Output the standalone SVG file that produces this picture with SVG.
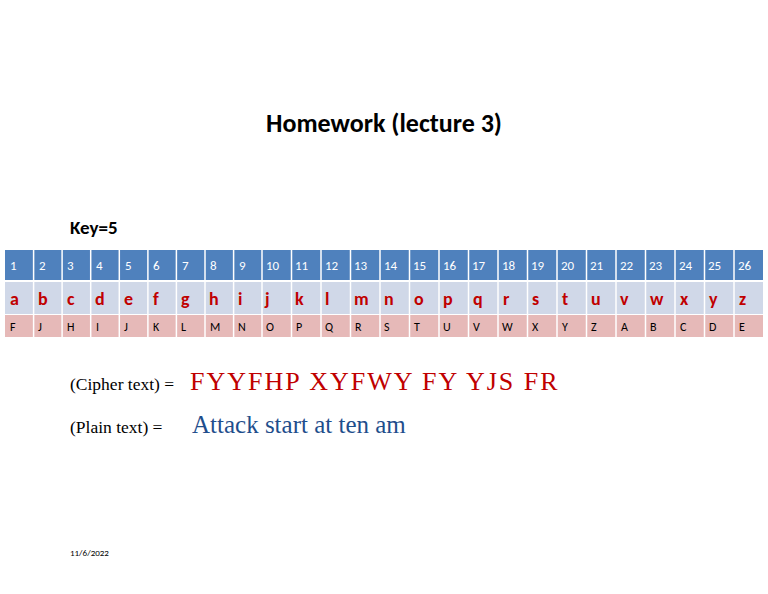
<svg xmlns="http://www.w3.org/2000/svg" width="768" height="594" viewBox="0 0 768 594">
<style>
.c{font-family:Calibri,Carlito,"Liberation Sans",sans-serif}
.n{fill:#fff;font-size:13px}
.a{fill:#C00000;font-size:18px;font-weight:bold}
.u{fill:#000;font-size:12px}
.s{font-family:"Liberation Serif",serif}
</style>
<rect width="768" height="594" fill="#fff"/>
<text x="384" y="132" text-anchor="middle" class="c" font-size="26" font-weight="bold">Homework (lecture 3)</text>
<text x="70" y="234" class="c" font-size="19" font-weight="bold">Key=5</text>
<g id="table">
<rect x="5" y="250" width="758" height="30" fill="#4F81BD"/>
<rect x="5" y="282" width="758" height="32" fill="#D0D8E8"/>
<rect x="5" y="315" width="758" height="22" fill="#E6B9B8"/>
<g stroke="#fff" stroke-width="1.5">
<line x1="33.6" y1="250" x2="33.6" y2="337"/><line x1="62.1" y1="250" x2="62.1" y2="337"/><line x1="90.7" y1="250" x2="90.7" y2="337"/><line x1="119.3" y1="250" x2="119.3" y2="337"/><line x1="147.9" y1="250" x2="147.9" y2="337"/><line x1="176.4" y1="250" x2="176.4" y2="337"/><line x1="205" y1="250" x2="205" y2="337"/><line x1="233.6" y1="250" x2="233.6" y2="337"/><line x1="262" y1="250" x2="262" y2="337"/><line x1="291.5" y1="250" x2="291.5" y2="337"/><line x1="321" y1="250" x2="321" y2="337"/><line x1="350.5" y1="250" x2="350.5" y2="337"/><line x1="380" y1="250" x2="380" y2="337"/><line x1="409.5" y1="250" x2="409.5" y2="337"/><line x1="439" y1="250" x2="439" y2="337"/><line x1="468.5" y1="250" x2="468.5" y2="337"/><line x1="498" y1="250" x2="498" y2="337"/><line x1="527.5" y1="250" x2="527.5" y2="337"/><line x1="557" y1="250" x2="557" y2="337"/><line x1="586.5" y1="250" x2="586.5" y2="337"/><line x1="616" y1="250" x2="616" y2="337"/><line x1="645.5" y1="250" x2="645.5" y2="337"/><line x1="675" y1="250" x2="675" y2="337"/><line x1="704.5" y1="250" x2="704.5" y2="337"/><line x1="734" y1="250" x2="734" y2="337"/>
</g>
<g class="c n">
<text x="10" y="270">1</text><text x="39" y="270">2</text><text x="67" y="270">3</text><text x="96" y="270">4</text><text x="125" y="270">5</text><text x="153" y="270">6</text><text x="182" y="270">7</text><text x="210" y="270">8</text><text x="239" y="270">9</text><text x="266" y="270">10</text><text x="295" y="270">11</text><text x="325" y="270">12</text><text x="354" y="270">13</text><text x="384" y="270">14</text><text x="413" y="270">15</text><text x="443" y="270">16</text><text x="472" y="270">17</text><text x="502" y="270">18</text><text x="531" y="270">19</text><text x="561" y="270">20</text><text x="590" y="270">21</text><text x="620" y="270">22</text><text x="649" y="270">23</text><text x="679" y="270">24</text><text x="708" y="270">25</text><text x="738" y="270">26</text>
</g>
<g class="c a">
<text x="10" y="305">a</text><text x="38" y="305">b</text><text x="67" y="305">c</text><text x="95" y="305">d</text><text x="124" y="305">e</text><text x="153" y="305">f</text><text x="181" y="305">g</text><text x="209" y="305">h</text><text x="238" y="305">i</text><text x="265" y="305">j</text><text x="295" y="305">k</text><text x="325" y="305">l</text><text x="354" y="305">m</text><text x="384" y="305">n</text><text x="414" y="305">o</text><text x="443" y="305">p</text><text x="473" y="305">q</text><text x="503" y="305">r</text><text x="532" y="305">s</text><text x="562" y="305">t</text><text x="591" y="305">u</text><text x="620" y="305">v</text><text x="650" y="305">w</text><text x="680" y="305">x</text><text x="709" y="305">y</text><text x="739" y="305">z</text>
</g>
<g class="c u">
<text x="10" y="331">F</text><text x="38" y="331">J</text><text x="67" y="331">H</text><text x="96" y="331">I</text><text x="124" y="331">J</text><text x="153" y="331">K</text><text x="181" y="331">L</text><text x="210" y="331">M</text><text x="238" y="331">N</text><text x="266" y="331">O</text><text x="296" y="331">P</text><text x="325" y="331">Q</text><text x="355" y="331">R</text><text x="384" y="331">S</text><text x="414" y="331">T</text><text x="443" y="331">U</text><text x="473" y="331">V</text><text x="502" y="331">W</text><text x="532" y="331">X</text><text x="562" y="331">Y</text><text x="591" y="331">Z</text><text x="621" y="331">A</text><text x="650" y="331">B</text><text x="680" y="331">C</text><text x="709" y="331">D</text><text x="739" y="331">E</text>
</g>
</g>
<text x="70" y="390" class="s" font-size="17.5">(Cipher text) =</text>
<text x="190" y="390" class="s" font-size="26" fill="#C00000" letter-spacing="2">FYYFHP XYFWY FY YJS FR</text>
<text x="70" y="433" class="s" font-size="17.5">(Plain text) =</text>
<text x="192" y="433" class="s" font-size="25" fill="#1F4E8C">Attack start at ten am</text>
<text x="70" y="556" class="c" font-size="9">11/6/2022</text>
</svg>
